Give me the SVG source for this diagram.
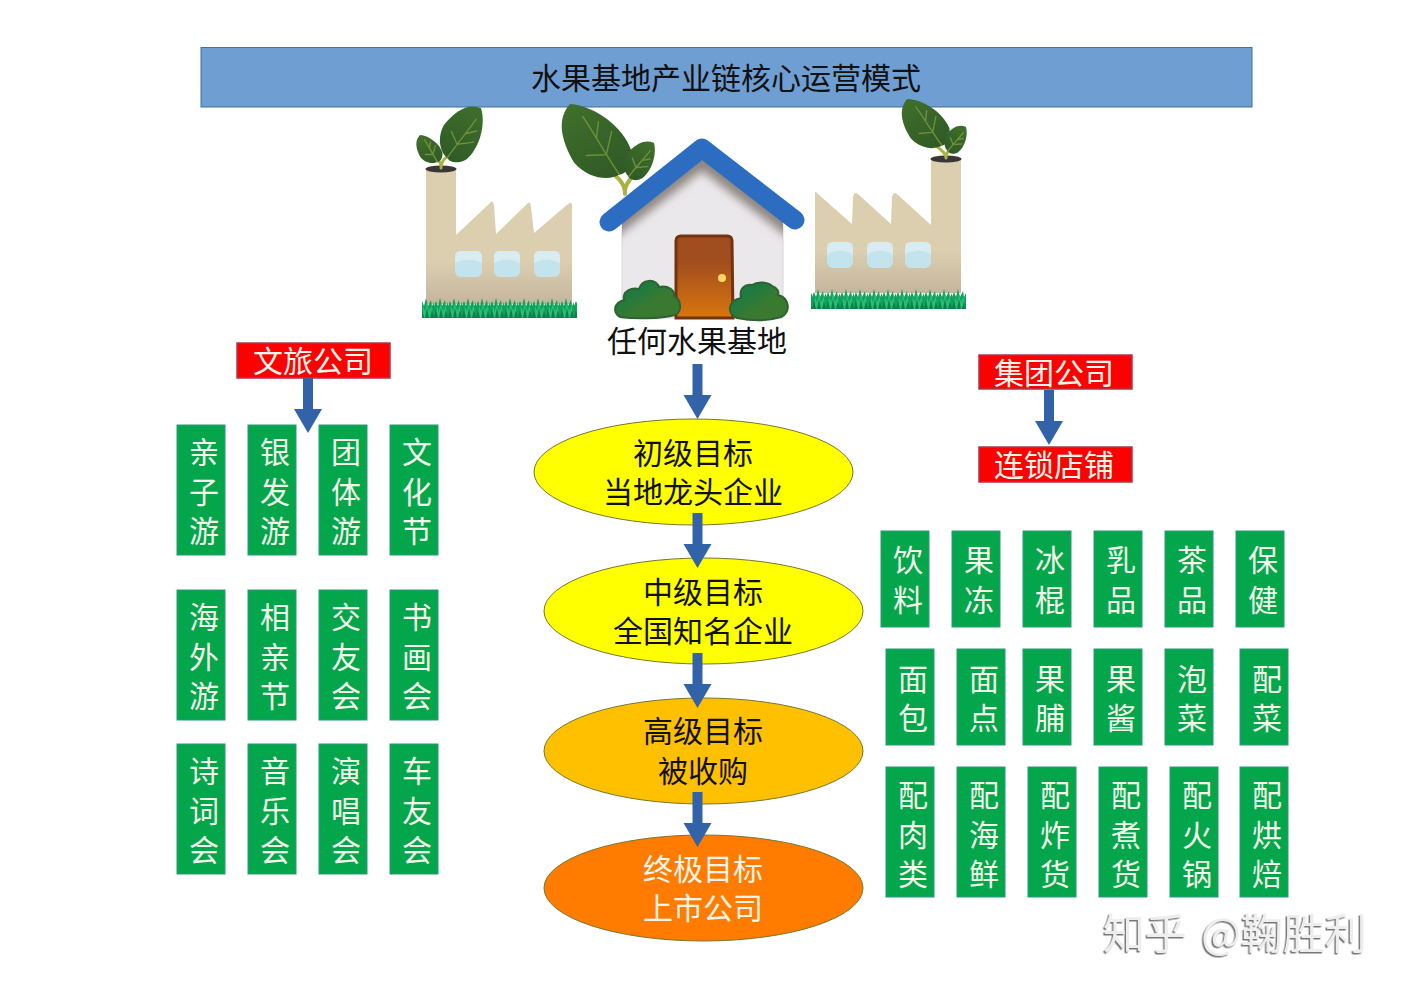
<svg xmlns="http://www.w3.org/2000/svg" width="1403" height="992" viewBox="0 0 1403 992">
<style>
text{font-family:"Noto Sans CJK SC","Microsoft YaHei",sans-serif;font-size:30px;text-anchor:middle}
.k{fill:#111}
.w{fill:#f4f4ea}
.g rect{fill:#04a64b;stroke:#2b9a78;stroke-width:1}
.g text{fill:#f2f7ea}
.r rect{fill:#fe0000;stroke:#a8384e;stroke-width:1.5}
.o{stroke:#77772e;stroke-width:1}
.a{stroke:#3263a8;stroke-width:10;fill:none;marker-end:url(#ah)}
.fac{fill:url(#facg)}
.win{fill:#c3e4ec}
.winh{fill:#d8ecf2}
.stem{fill:none;stroke:#a8b344;stroke-linecap:round}
.vein{fill:none;stroke:#6f8f38;stroke-width:1.4;stroke-linecap:round}
</style>
<defs>
<marker id="ah" markerUnits="userSpaceOnUse" markerWidth="26" markerHeight="30" refX="0" refY="15" orient="auto" overflow="visible">
<polygon points="0,1 24,15 0,29" fill="#3263a8"/>
</marker>
<linearGradient id="facg" x1="0" y1="0" x2="0" y2="1"><stop offset="0.68" stop-color="#dccfb0"/><stop offset="1" stop-color="#c4b59e"/></linearGradient>
<linearGradient id="door" x1="0" y1="0" x2="0" y2="1"><stop offset="0.3" stop-color="#a04d20"/><stop offset="1" stop-color="#d9760c"/></linearGradient>
<linearGradient id="bush" x1="0" y1="0" x2="1" y2="1"><stop offset="0.3" stop-color="#1f7a40"/><stop offset="0.6" stop-color="#3a7a30"/></linearGradient>
<linearGradient id="leafg" x1="0" y1="0" x2="1" y2="0"><stop offset="0" stop-color="#3f6f2c"/><stop offset="1" stop-color="#2f5a26"/></linearGradient>
<filter id="blur" x="-20%" y="-20%" width="140%" height="140%"><feGaussianBlur stdDeviation="5"/></filter>
<filter id="wm" x="-5%" y="-10%" width="110%" height="130%"><feDropShadow dx="-1.500" dy="1.500" stdDeviation="0.600" flood-color="#777"/></filter>
<clipPath id="wallclip"><path d="M622 318V214L702 152L783 214V318Z"/></clipPath>
<g id="leaf">
<path d="M0 0C18-18 58-28 84-22C100-16 105-5 100 0C100 10 85 26 58 28C28 26 5 18 0 0Z" fill="url(#leafg)"/>
<path class="vein" d="M100 0C72 0 42-3 20-3M72-1L54-17M50-2L36-12M72 0L60 15" vector-effect="non-scaling-stroke"/>
</g>
<pattern id="grass" patternUnits="userSpaceOnUse" x="0" y="298" width="14" height="20">
<path d="M0 20V8L2 3L4 8L6 0L8 8L11 2L12 8L14 4V20Z" fill="#12a05a"/>
<path d="M1 20L3 8L5 13L7 5L9 13L12 7L13 20Z" fill="#2abd75"/>
<path d="M0 20L2 11L4 20ZM5 20L7 10L9 20ZM10 20L12 12L14 20Z" fill="#0a8048"/>
</pattern>
<pattern id="grass2" patternUnits="userSpaceOnUse" x="0" y="289" width="14" height="20">
<path d="M0 20V8L2 3L4 8L6 0L8 8L11 2L12 8L14 4V20Z" fill="#12a05a"/>
<path d="M1 20L3 8L5 13L7 5L9 13L12 7L13 20Z" fill="#2abd75"/>
<path d="M0 20L2 11L4 20ZM5 20L7 10L9 20ZM10 20L12 12L14 20Z" fill="#0a8048"/>
</pattern>
</defs>
<rect width="1403" height="992" fill="#fff"/>

<g id="title"><rect x="201" y="47.500" width="1051" height="59.500" fill="#6f9ed2" stroke="#41719c"/><text class="k" x="726" y="89">水果基地产业链核心运营模式</text></g>

<g id="factory-left">
<path class="fac" d="M426 169H456V235L490 203Q493 199 494 206L496 234L527 204Q530 200 531 207L534 233L568 204Q572 200 572 206V304H426Z"/>
<ellipse cx="441" cy="169" rx="15.500" ry="3.500" fill="#3a3636"/>
<g class="win"><rect x="455" y="251" width="27" height="26" rx="6"/><rect x="494" y="251" width="26" height="26" rx="6"/><rect x="534" y="251" width="26" height="26" rx="6"/></g>
<path class="winh" d="M455 263V257Q455 251 461 251H476Q482 251 482 257V263Q468 256 455 263ZM494 263V257Q494 251 500 251H514Q520 251 520 257V263Q507 256 494 263ZM534 263V257Q534 251 540 251H554Q560 251 560 257V263Q547 256 534 263Z"/>
<rect x="422" y="298" width="155" height="20" fill="url(#grass)"/>
<path class="stem" stroke-width="3" d="M441 168C441 160 447 156 455 152M441 166C441 162 437 158 433 154"/>
<use href="#leaf" transform="translate(481,108) rotate(124) scale(.6,.76)"/>
<use href="#leaf" transform="translate(420,135) rotate(57) scale(.32,.42)"/>
</g>

<g id="factory-right">
<path class="fac" d="M815 192Q815 191 818 194L852 224L853 197Q855 190 859 195L891 224L892 197Q894 190 898 195L931 225V159H961V293H815Z"/>
<ellipse cx="946" cy="159" rx="15.500" ry="3.500" fill="#3a3636"/>
<g class="win"><rect x="827" y="242" width="26" height="26" rx="6"/><rect x="867" y="242" width="26" height="26" rx="6"/><rect x="905" y="242" width="26" height="26" rx="6"/></g>
<path class="winh" d="M827 254V248Q827 242 833 242H847Q853 242 853 248V254Q840 247 827 254ZM867 254V248Q867 242 873 242H887Q893 242 893 248V254Q880 247 867 254ZM905 254V248Q905 242 911 242H925Q931 242 931 248V254Q918 247 905 254Z"/>
<rect x="811" y="289" width="155" height="20" fill="url(#grass2)"/>
<path class="stem" stroke-width="3" d="M946 158C946 154 942 150 936 146M946 158C946 154 948 151 951 148"/>
<use href="#leaf" transform="translate(907,99) rotate(53) scale(.58,.74)"/>
<use href="#leaf" transform="translate(966,127) rotate(127) scale(.3,.4)"/>
</g>

<g id="house">
<path class="stem" stroke-width="4" d="M625 194C625 185 620 178 610 172M625 190C626 184 629 180 634 175"/>
<use href="#leaf" transform="translate(570,104) rotate(55) scale(.86,1.080)"/>
<use href="#leaf" transform="translate(654,143) rotate(127) scale(.42,.54)"/>
<path d="M622 318V214L702 152L783 214V318Z" fill="#ebe8ec" stroke="#d8d6da"/>
<g clip-path="url(#wallclip)"><path d="M609 230L702 158L795 230" fill="none" stroke="#8d8581" stroke-width="20" filter="url(#blur)"/></g>
<path d="M609 222L702 148L795 220" fill="none" stroke="#2c6dc1" stroke-width="19" stroke-linecap="round" stroke-linejoin="round"/>
<path d="M676 318V241Q676 236 681 236H727Q732 236 732 241L733 318Z" fill="url(#door)" stroke="#74330f" stroke-width="3"/>
<circle cx="722" cy="278" r="4" fill="#ffd966"/>
<path d="M620 317C612 312 614 303 624 300C622 291 632 287 639 289C642 279 655 278 659 287C668 285 675 290 674 296C682 300 682 312 675 315C660 319 635 319 620 317Z" fill="url(#bush)" stroke="#2d6330" stroke-width="2"/>
<path d="M737 318C727 314 727 301 741 298C739 288 745 284 752 285C758 281 768 282 772 286C778 288 779 292 778 295C790 298 791 313 781 317C768 321 752 321 737 318Z" fill="url(#bush)" stroke="#2d6330" stroke-width="2"/>
<text class="k" x="697" y="352">任何水果基地</text>
</g>

<g id="wenlv" class="r"><rect x="237" y="343" width="153" height="35"/><text class="w" x="313" y="372">文旅公司</text></g>
<g id="jituan" class="r"><rect x="979" y="355" width="153" height="34"/><text class="w" x="1054" y="384">集团公司</text></g>
<g id="liansuo" class="r"><rect x="979" y="447" width="153" height="35"/><text class="w" x="1054" y="476">连锁店铺</text></g>

<g id="goal1"><ellipse class="o" cx="693.500" cy="472" rx="159.500" ry="53" fill="#ffff00"/><text class="k" x="693" y="464">初级目标<tspan x="693" dy="39">当地龙头企业</tspan></text></g>
<g id="goal2"><ellipse class="o" cx="703.500" cy="611" rx="159.500" ry="53" fill="#ffff00"/><text class="k" x="703" y="603">中级目标<tspan x="703" dy="39">全国知名企业</tspan></text></g>
<g id="goal3"><ellipse class="o" cx="703.500" cy="751" rx="159.500" ry="53" fill="#ffc000"/><text class="k" x="703" y="742">高级目标<tspan x="703" dy="40">被收购</tspan></text></g>
<g id="goal4"><ellipse class="o" cx="703.500" cy="888" rx="159.500" ry="53" fill="#ff7c00"/><text class="w" x="703" y="880">终极目标<tspan x="703" dy="39">上市公司</tspan></text></g>

<g id="left-r1" class="g">
<g id="n-qinzi"><rect x="177" y="425" width="48" height="130"/><text x="204" y="463">亲<tspan x="204" dy="39.500">子</tspan><tspan x="204" dy="39.500">游</tspan></text></g>
<g id="n-yinfa"><rect x="248" y="425" width="48" height="130"/><text x="275" y="463">银<tspan x="275" dy="39.500">发</tspan><tspan x="275" dy="39.500">游</tspan></text></g>
<g id="n-tuanti"><rect x="319" y="425" width="48" height="130"/><text x="346" y="463">团<tspan x="346" dy="39.500">体</tspan><tspan x="346" dy="39.500">游</tspan></text></g>
<g id="n-wenhua"><rect x="390" y="425" width="48" height="130"/><text x="417" y="463">文<tspan x="417" dy="39.500">化</tspan><tspan x="417" dy="39.500">节</tspan></text></g>
</g>
<g id="left-r2" class="g">
<g id="n-haiwai"><rect x="177" y="590" width="48" height="130"/><text x="204" y="628">海<tspan x="204" dy="39.500">外</tspan><tspan x="204" dy="39.500">游</tspan></text></g>
<g id="n-xiangqin"><rect x="248" y="590" width="48" height="130"/><text x="275" y="628">相<tspan x="275" dy="39.500">亲</tspan><tspan x="275" dy="39.500">节</tspan></text></g>
<g id="n-jiaoyou"><rect x="319" y="590" width="48" height="130"/><text x="346" y="628">交<tspan x="346" dy="39.500">友</tspan><tspan x="346" dy="39.500">会</tspan></text></g>
<g id="n-shuhua"><rect x="390" y="590" width="48" height="130"/><text x="417" y="628">书<tspan x="417" dy="39.500">画</tspan><tspan x="417" dy="39.500">会</tspan></text></g>
</g>
<g id="left-r3" class="g">
<g id="n-shici"><rect x="177" y="744" width="48" height="130"/><text x="204" y="782">诗<tspan x="204" dy="39.500">词</tspan><tspan x="204" dy="39.500">会</tspan></text></g>
<g id="n-yinyue"><rect x="248" y="744" width="48" height="130"/><text x="275" y="782">音<tspan x="275" dy="39.500">乐</tspan><tspan x="275" dy="39.500">会</tspan></text></g>
<g id="n-yanchang"><rect x="319" y="744" width="48" height="130"/><text x="346" y="782">演<tspan x="346" dy="39.500">唱</tspan><tspan x="346" dy="39.500">会</tspan></text></g>
<g id="n-cheyou"><rect x="390" y="744" width="48" height="130"/><text x="417" y="782">车<tspan x="417" dy="39.500">友</tspan><tspan x="417" dy="39.500">会</tspan></text></g>
</g>

<g id="right-r1" class="g">
<g id="n-yinliao"><rect x="881" y="531" width="48" height="96"/><text x="908" y="571">饮<tspan x="908" dy="40">料</tspan></text></g>
<g id="n-guodong"><rect x="952" y="531" width="48" height="96"/><text x="979" y="571">果<tspan x="979" dy="40">冻</tspan></text></g>
<g id="n-binggun"><rect x="1023" y="531" width="48" height="96"/><text x="1050" y="571">冰<tspan x="1050" dy="40">棍</tspan></text></g>
<g id="n-rupin"><rect x="1094" y="531" width="48" height="96"/><text x="1121" y="571">乳<tspan x="1121" dy="40">品</tspan></text></g>
<g id="n-chapin"><rect x="1165" y="531" width="48" height="96"/><text x="1192" y="571">茶<tspan x="1192" dy="40">品</tspan></text></g>
<g id="n-baojian"><rect x="1236" y="531" width="48" height="96"/><text x="1263" y="571">保<tspan x="1263" dy="40">健</tspan></text></g>
</g>
<g id="right-r2" class="g">
<g id="n-mianbao"><rect x="886" y="649" width="48" height="96"/><text x="913" y="690">面<tspan x="913" dy="39">包</tspan></text></g>
<g id="n-miandian"><rect x="957" y="649" width="48" height="96"/><text x="984" y="690">面<tspan x="984" dy="39">点</tspan></text></g>
<g id="n-guofu"><rect x="1023" y="649" width="48" height="96"/><text x="1050" y="690">果<tspan x="1050" dy="39">脯</tspan></text></g>
<g id="n-guojiang"><rect x="1094" y="649" width="48" height="96"/><text x="1121" y="690">果<tspan x="1121" dy="39">酱</tspan></text></g>
<g id="n-paocai"><rect x="1165" y="649" width="48" height="96"/><text x="1192" y="690">泡<tspan x="1192" dy="39">菜</tspan></text></g>
<g id="n-peicai"><rect x="1240" y="649" width="48" height="96"/><text x="1267" y="690">配<tspan x="1267" dy="39">菜</tspan></text></g>
</g>
<g id="right-r3" class="g">
<g id="n-rou"><rect x="886" y="767" width="48" height="130"/><text x="913" y="806">配<tspan x="913" dy="39.500">肉</tspan><tspan x="913" dy="39.500">类</tspan></text></g>
<g id="n-haixian"><rect x="957" y="767" width="48" height="130"/><text x="984" y="806">配<tspan x="984" dy="39.500">海</tspan><tspan x="984" dy="39.500">鲜</tspan></text></g>
<g id="n-zha"><rect x="1028" y="767" width="48" height="130"/><text x="1055" y="806">配<tspan x="1055" dy="39.500">炸</tspan><tspan x="1055" dy="39.500">货</tspan></text></g>
<g id="n-zhu"><rect x="1099" y="767" width="48" height="130"/><text x="1126" y="806">配<tspan x="1126" dy="39.500">煮</tspan><tspan x="1126" dy="39.500">货</tspan></text></g>
<g id="n-huoguo"><rect x="1170" y="767" width="48" height="130"/><text x="1197" y="806">配<tspan x="1197" dy="39.500">火</tspan><tspan x="1197" dy="39.500">锅</tspan></text></g>
<g id="n-hongbei"><rect x="1240" y="767" width="48" height="130"/><text x="1267" y="806">配<tspan x="1267" dy="39.500">烘</tspan><tspan x="1267" dy="39.500">焙</tspan></text></g>
</g>

<g id="connectors">
<line class="a" x1="697.500" y1="364" x2="697.500" y2="395"/>
<line class="a" x1="697.500" y1="513" x2="697.500" y2="544"/>
<line class="a" x1="697.500" y1="653" x2="697.500" y2="684"/>
<line class="a" x1="697.500" y1="792" x2="697.500" y2="823"/>
<line class="a" x1="308" y1="378" x2="308" y2="409"/>
<line class="a" x1="1049" y1="390" x2="1049" y2="421"/>
</g>

<text id="watermark" x="1235" y="949" style="font-size:42px;word-spacing:5px;fill:#eee" filter="url(#wm)">知乎 @鞠胜利</text>
</svg>
